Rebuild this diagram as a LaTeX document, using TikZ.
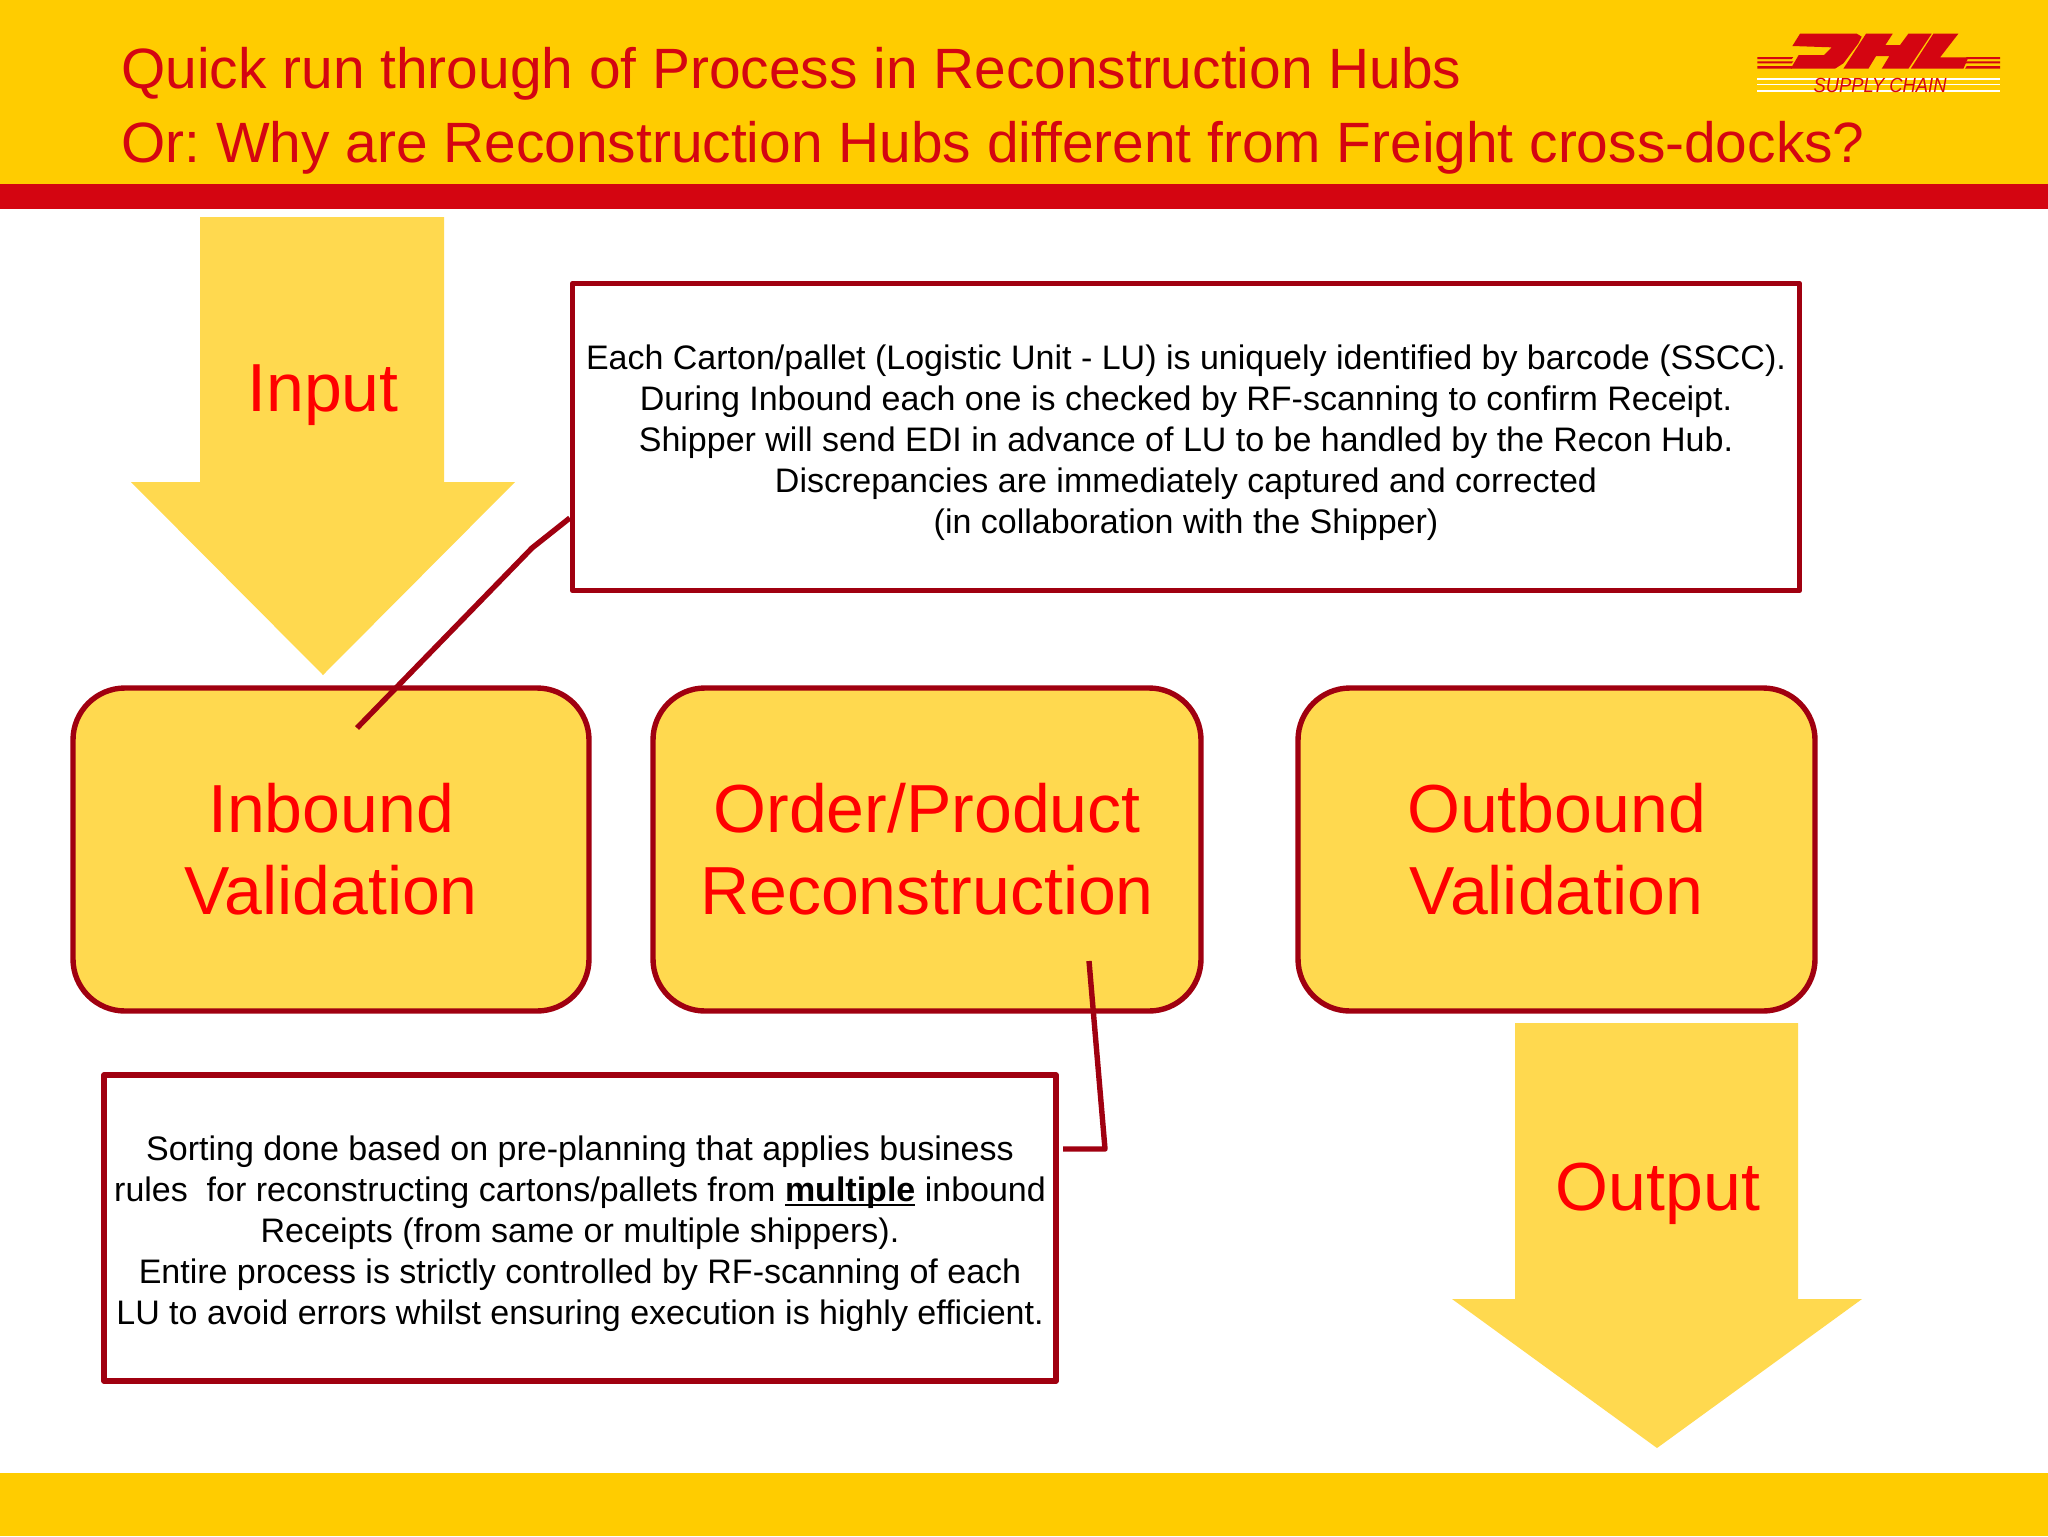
\documentclass[tikz,border=0pt]{standalone}
\usepackage{fontspec}
\setmainfont{Liberation Sans}
\definecolor{dhlyellow}{HTML}{FFCC00}
\definecolor{dhlred}{HTML}{D40511}
\definecolor{softyellow}{HTML}{FFD94F}
\definecolor{edgered}{HTML}{A00010}
\definecolor{labelred}{HTML}{FF0000}
\newcommand{\thickul}[1]{\setbox0=\hbox{#1}\rlap{\rule[-2.3pt]{\wd0}{1.1pt}}\box0\relax}
\newcommand{\notedrop}{\rule{0pt}{18.3pt}}
\tikzset{
  bigarrow/.style={fill=softyellow,draw=none},
  procbox/.style={draw=edgered,line width=2.7pt,fill=softyellow,rounded corners=26pt,text=labelred,align=center,font=\fontsize{34}{41}\selectfont,minimum height=161.5pt,inner sep=0pt},
  notebox/.style={draw=edgered,line width=2.7pt,fill=white,text=black,align=center,font=\frenchspacing\fontsize{17}{20.45}\selectfont,inner sep=0pt,line join=round},
  leader/.style={draw=edgered,line width=2.7pt,line join=round},
  biglabel/.style={text=labelred,font=\fontsize{34}{41}\selectfont,inner sep=0pt},
  titletext/.style={text=dhlred,font=\frenchspacing\fontsize{28.43}{37.2}\selectfont,align=left,inner sep=0pt},
}
\begin{document}
\begin{tikzpicture}[x=0.5pt,y=-0.5pt]
\useasboundingbox (0,0) rectangle (2048,1536);
\fill[white] (0,0) rectangle (2048,1536);
\fill[dhlyellow] (0,0) rectangle (2048,184);
\fill[dhlred] (0,184) rectangle (2048,209);
\fill[dhlyellow] (0,1473) rectangle (2048,1536);
\node[titletext,anchor=west] (title) at (121,110.5) {Quick run through of Process in Reconstruction Hubs\\Or: Why are Reconstruction Hubs different from Freight cross-docks?};
% logo
\begin{scope}[shift={(1700,0)},x=0.1667pt,y=-0.1667pt]
\foreach \ya/\yb in {171/177,184/190,198/206}{
  \fill[dhlred] (172,\ya) -- (280,\ya) -- (275,\yb) -- (172,\yb) -- cycle;
  \fill[dhlred] (800,\ya) -- (900,\ya) -- (900,\yb) -- (795,\yb) -- cycle;
}
\fill[dhlred] (300,101) -- (470,101) -- (485,110) -- (475,130) -- (430,190) -- (405,206) -- (272,206) -- (296,165) -- (372,165) -- (395,142) -- (277,138) -- cycle;
\fill[dhlred] (498,101) -- (578,101) -- (556,135) -- (600,135) -- (625,101) -- (695,101) -- (625,206) -- (545,206) -- (568,168) -- (528,168) -- (505,206) -- (430,206) -- cycle;
\fill[dhlred] (700,101) -- (775,101) -- (720,172) -- (805,172) -- (790,206) -- (632,206) -- cycle;
\foreach \ya in {235,251,270}{\fill[white] (172,\ya) rectangle (900,\ya+5);}
\end{scope}
\node[text=dhlred,font=\itshape\fontsize{10.2}{12}\selectfont,inner sep=0pt,xscale=0.9,transform shape] (logotext) at (1880,85) {SUPPLY CHAIN};
% arrows
\fill[bigarrow] (200,217) -- (444,217) -- (444,482) -- (515,482) -- (323,675) -- (131,482) -- (200,482) -- cycle;
\node[biglabel] (input) at (323,395) {Input};
\fill[bigarrow] (1515,1023) -- (1798,1023) -- (1798,1299) -- (1862,1299) -- (1657,1448) -- (1452,1299) -- (1515,1299) -- cycle;
\node[biglabel] (output) at (1658,1194) {Output};
% process boxes
\node[procbox,minimum width=258pt] (inbound) at (331,849.5) {Inbound\\Validation};
\node[procbox,minimum width=274pt] (recon) at (927,849.5) {Order/Product\\Reconstruction};
\node[procbox,minimum width=258.5pt] (outbound) at (1556.5,849.5) {Outbound\\Validation};
% notes
\node[notebox,minimum width=613.5pt,minimum height=153.5pt] (note1) at (1186,437) {\notedrop Each Carton/pallet (Logistic Unit - LU) is uniquely identified by barcode (SSCC).\\During Inbound each one is checked by RF-scanning to confirm Receipt.\\Shipper will send EDI in advance of LU to be handled by the Recon Hub.\\Discrepancies are immediately captured and corrected\\(in collaboration with the Shipper)};
\node[notebox,minimum width=476pt,minimum height=153pt] (note2) at (580,1228) {\notedrop Sorting done based on pre-planning that applies business\\rules\ \ for reconstructing cartons/pallets from \thickul{\textbf{multiple}} inbound\\Receipts (from same or multiple shippers).\\Entire process is strictly controlled by RF-scanning of each\\LU to avoid errors whilst ensuring execution is highly efficient.};
% leaders
\coordinate (l1a) at (note1.west |- 0,518);
\coordinate (l1b) at (532,548);
\coordinate (l1c) at (357,728);
\draw[leader] (l1a) -- (l1b) -- (l1c);
\coordinate (l2a) at (1063,1149);
\coordinate (l2b) at (1105,1149);
\coordinate (l2c) at (1089,961);
\draw[leader] (l2a) -- (l2b) -- (l2c);
\end{tikzpicture}
\end{document}
